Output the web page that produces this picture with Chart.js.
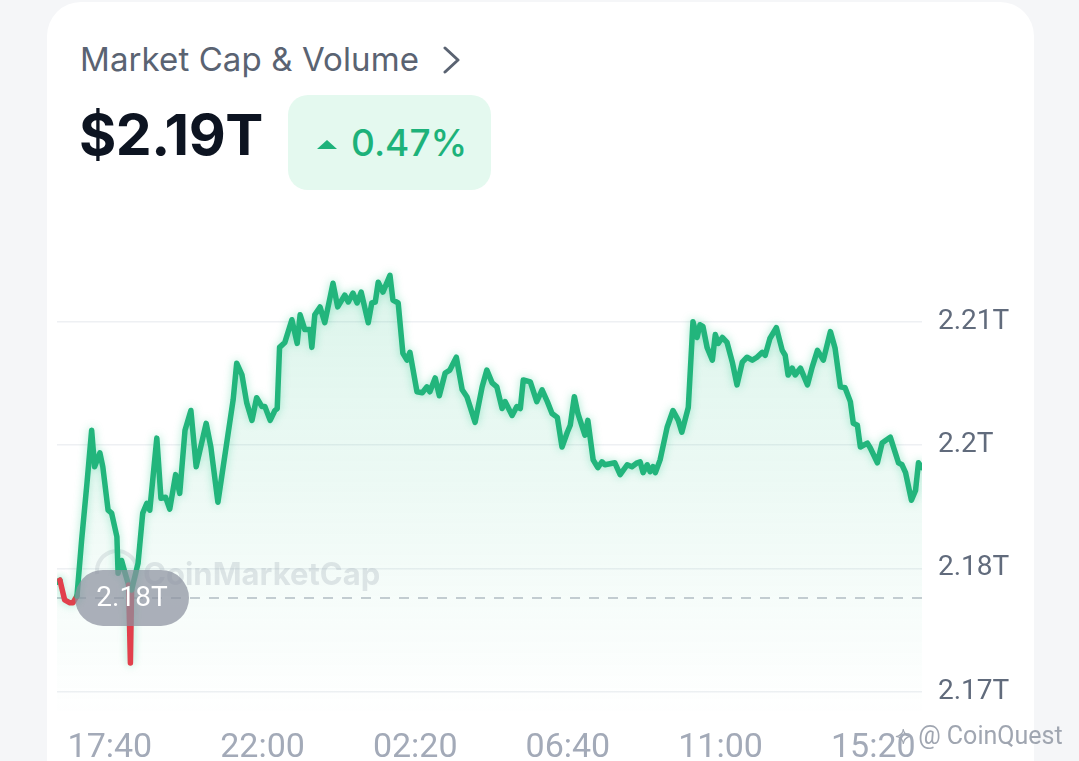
<!DOCTYPE html>
<html lang="en">
<head>
    <meta charset="UTF-8">
    <title>Market Cap & Volume</title>
    <script src="https://cdn.jsdelivr.net/npm/chart.js"></script>
    <style>
        html, body { margin: 0; padding: 0; width: 1079px; height: 761px; overflow: hidden; background: #f5f6f8; font-family: Inter, "Noto Sans", sans-serif; }
        .card { position: absolute; left: 47px; top: 2px; width: 987px; height: 820px; background: #fff; border-radius: 34px; }
        .title { position: absolute; left: 80px; top: 39px; font-size: 33px; color: #5a6372; letter-spacing: 0.1px; }
        .chev { position: absolute; left: 441px; top: 46px; }
        .price { position: absolute; left: 79px; top: 100px; font-size: 57px; font-weight: 700; color: #0d1421; letter-spacing: -0.5px; }
        .badge { position: absolute; left: 288px; top: 95px; width: 203px; height: 95px; background: #e4f9ef; border-radius: 20px; }
        .badge .tri { position: absolute; left: 29px; top: 45px; width: 0; height: 0; border-left: 10px solid transparent; border-right: 10px solid transparent; border-bottom: 9px solid #1db27a; }
        .badge .pct { position: absolute; left: 63px; top: 25px; font-size: 37px; font-weight: 500; color: #1db27a; }
        .wm { position: absolute; left: 895px; top: 721px; font-size: 25px; color: #a0a6b1; font-family: Roboto, sans-serif; }
        canvas { position: absolute; left: 0; top: 0; }
    </style>
</head>
<body>
    <div class="card"></div>
    <div class="title">Market Cap &amp; Volume</div>
    <svg class="chev" width="22" height="28" viewBox="0 0 22 28"><path d="M4 2 L17 14 L4 26" fill="none" stroke="#5a6372" stroke-width="3" stroke-linecap="round" stroke-linejoin="round"/></svg>
    <div class="price">$2.19T</div>
    <div class="badge"><div class="tri"></div><div class="pct">0.47%</div></div>

    <canvas id="myChart" width="1079" height="790"></canvas>
    <div class="wm">⟡ @ CoinQuest</div>

    <script>
        // minutes since 00:00 of the first day
        const times = [970, 975, 983, 992, 997, 1004, 1012, 1021, 1029, 1034, 1043, 1048, 1057, 1063, 1072, 1074, 1080, 1086, 1092, 1095,
            1097, 1108, 1116, 1123, 1128, 1140, 1147, 1155, 1162, 1172, 1179, 1188, 1198, 1207, 1224, 1232, 1244, 1261, 1270, 1276,
            1285, 1293, 1302, 1310, 1319, 1324, 1333, 1341, 1345, 1349, 1358, 1370, 1379, 1384, 1392, 1401, 1404, 1409, 1418, 1426,
            1440, 1448, 1460, 1466, 1474, 1481, 1488, 1500, 1506, 1512, 1517, 1525, 1537, 1542, 1551, 1559, 1566, 1571, 1583, 1592,
            1600, 1605, 1614, 1621, 1631, 1639, 1650, 1660, 1668, 1682, 1694, 1702, 1711, 1719, 1728, 1733, 1745, 1753, 1759, 1764,
            1776, 1787, 1796, 1805, 1813, 1822, 1830, 1839, 1844, 1851, 1857, 1869, 1874, 1883, 1891, 1898, 1903, 1920, 1929, 1941,
            1949, 1958, 1963, 1968, 1975, 1980, 1985, 1989, 1997, 2009, 2019, 2028, 2034, 2045, 2053, 2060, 2065, 2070, 2077, 2086,
            2091, 2096, 2103, 2111, 2120, 2128, 2137, 2145, 2154, 2162, 2171, 2176, 2184, 2195, 2205, 2210, 2215, 2222, 2227, 2236,
            2248, 2256, 2265, 2275, 2287, 2295, 2304, 2312, 2321, 2326, 2333, 2338, 2350, 2355, 2367, 2375, 2389, 2397, 2403, 2409,
            2415, 2425, 2432, 2437, 2443];

        // market cap, trillions USD
        const marketCap = [2.1836, 2.1838, 2.1818, 2.1815, 2.1815, 2.1822, 2.1879, 2.1936, 2.1990, 2.1953, 2.1967, 2.1953, 2.1909, 2.1906, 2.1882, 2.1845, 2.1858, 2.1845, 2.1833, 2.1754,
            2.1828, 2.1855, 2.1906, 2.1916, 2.1909, 2.1982, 2.1921, 2.1922, 2.1910, 2.1945, 2.1926, 2.1990, 2.2010, 2.1953, 2.1997, 2.1973, 2.1917, 2.1985, 2.2021, 2.2058,
            2.2046, 2.2018, 2.2000, 2.2023, 2.2014, 2.2014, 2.2000, 2.2010, 2.2012, 2.2074, 2.2079, 2.2102, 2.2078, 2.2107, 2.2092, 2.2092, 2.2074, 2.2107, 2.2115, 2.2099,
            2.2139, 2.2115, 2.2127, 2.2120, 2.2129, 2.2119, 2.2130, 2.2099, 2.2119, 2.2120, 2.2140, 2.2130, 2.2147, 2.2122, 2.2119, 2.2068, 2.2061, 2.2069, 2.2029, 2.2028,
            2.2034, 2.2029, 2.2043, 2.2025, 2.2048, 2.2051, 2.2064, 2.2031, 2.2024, 2.1998, 2.2034, 2.2051, 2.2038, 2.2034, 2.2012, 2.2019, 2.2005, 2.2014, 2.2012, 2.2041,
            2.2039, 2.2019, 2.2031, 2.2019, 2.2007, 2.2003, 2.1973, 2.1988, 2.1995, 2.2024, 2.2007, 2.1985, 2.2000, 2.1960, 2.1952, 2.1958, 2.1955, 2.1957, 2.1945, 2.1955,
            2.1953, 2.1957, 2.1958, 2.1947, 2.1955, 2.1948, 2.1953, 2.1947, 2.1960, 2.1993, 2.2010, 2.2000, 2.1988, 2.2013, 2.2100, 2.2084, 2.2097, 2.2095, 2.2074, 2.2061,
            2.2087, 2.2078, 2.2084, 2.2079, 2.2059, 2.2036, 2.2059, 2.2064, 2.2061, 2.2064, 2.2069, 2.2066, 2.2083, 2.2094, 2.2071, 2.2066, 2.2046, 2.2053, 2.2046, 2.2053,
            2.2036, 2.2054, 2.2071, 2.2061, 2.2090, 2.2073, 2.2034, 2.2033, 2.2019, 2.1997, 2.1995, 2.1973, 2.1977, 2.1972, 2.1957, 2.1977, 2.1983, 2.1968, 2.1957, 2.1955,
            2.1947, 2.1919, 2.1929, 2.1957, 2.1952];

        const openValue = 2.1820;      // 24h open, dashed line
        const openLabel = '2.18T';

        const xTickValues = [1060, 1320, 1580, 1840, 2100, 2360];
        const xTickLabels = ['17:40', '22:00', '02:20', '06:40', '11:00', '15:20'];
        const yTickValues = [2.1725, 2.185, 2.1975, 2.21];
        const yTickLabels = ['2.17T', '2.18T', '2.2T', '2.21T'];

        const green = '#22b57c';
        const red = '#e2404c';

        const points = times.map((t, i) => ({ x: t, y: marketCap[i] }));

        // soft halo under the line
        const glow = {
            id: 'glow',
            beforeDatasetDraw(chart, args) {
                if (args.index !== 0) return;
                const c = chart.ctx;
                c.save();
                c.shadowColor = 'rgba(40,200,140,0.4)';
                c.shadowBlur = 8;
            },
            afterDatasetDraw(chart, args) {
                if (args.index === 0) chart.ctx.restore();
            }
        };

        // watermark + dashed open line under the data, pill label on top
        const overlay = {
            id: 'overlay',
            beforeDatasetsDraw(chart) {
                const c = chart.ctx;
                const area = chart.chartArea;
                const y = chart.scales.y.getPixelForValue(openValue);
                c.save();
                c.strokeStyle = 'rgba(150,157,170,0.22)';
                c.lineWidth = 4;
                c.beginPath();
                c.arc(117, 571, 20, Math.PI * 0.95, Math.PI * 2.2);
                c.stroke();
                c.fillStyle = 'rgba(150,157,170,0.25)';
                c.font = 'bold 31px Inter, sans-serif';
                c.textBaseline = 'middle';
                c.fillText('CoinMarketCap', 143, 576);
                c.setLineDash([10, 9]);
                c.strokeStyle = '#c9cdd4';
                c.lineWidth = 2;
                c.beginPath();
                c.moveTo(area.left, y);
                c.lineTo(area.right, y);
                c.stroke();
                c.restore();
            },
            afterDatasetsDraw(chart) {
                const c = chart.ctx;
                const y = chart.scales.y.getPixelForValue(openValue);
                const x = 75, w = 114, h = 56;
                c.save();
                c.fillStyle = 'rgba(140,146,160,0.72)';
                c.beginPath();
                c.roundRect(x, y - h / 2, w, h, h / 2);
                c.fill();
                c.fillStyle = '#fff';
                c.font = '28px Roboto, sans-serif';
                c.textAlign = 'center';
                c.textBaseline = 'middle';
                c.fillText(openLabel, x + w / 2, y + 1);
                c.restore();
            }
        };

        const ctx = document.getElementById('myChart').getContext('2d');
        new Chart(ctx, {
            type: 'line',
            data: {
                datasets: [{
                    data: points,
                    borderColor: green,
                    borderWidth: 5.5,
                    pointRadius: 0,
                    tension: 0,
                    fill: false,
                    borderJoinStyle: 'round',
                    borderCapStyle: 'round',
                    segment: {
                        borderColor: s => (s.p0.parsed.y < openValue || s.p1.parsed.y < openValue) ? red : undefined
                    }
                }, {
                    data: points,
                    borderWidth: 0,
                    pointRadius: 0,
                    tension: 0,
                    fill: 'start',
                    backgroundColor: c => {
                        const area = c.chart.chartArea;
                        if (!area) return 'rgba(34,181,124,0.08)';
                        const g = c.chart.ctx.createLinearGradient(0, area.top, 0, area.bottom);
                        g.addColorStop(0, 'rgba(34,190,130,0.17)');
                        g.addColorStop(0.75, 'rgba(34,190,130,0.04)');
                        g.addColorStop(1, 'rgba(34,190,130,0)');
                        return g;
                    }
                }]
            },
            options: {
                responsive: false,
                animation: false,
                layout: { padding: { left: 57, top: 257.6, right: 0, bottom: 0 } },
                plugins: { legend: { display: false }, tooltip: { enabled: false } },
                scales: {
                    x: {
                        type: 'linear',
                        min: 970,
                        max: 2443,
                        afterBuildTicks: s => { s.ticks = xTickValues.map(v => ({ value: v })); },
                        afterFit: s => { s.height = 790 - 716.3; },
                        grid: { display: false, drawTicks: false },
                        border: { display: false },
                        ticks: {
                            padding: 12,
                            maxRotation: 0,
                            autoSkip: false,
                            color: '#a3aab8',
                            font: { family: 'Roboto', size: 34 },
                            callback: (v, i) => xTickLabels[i]
                        }
                    },
                    y: {
                        position: 'right',
                        min: 2.17,
                        max: 2.2165,
                        afterBuildTicks: s => { s.ticks = yTickValues.map(v => ({ value: v })); },
                        afterFit: s => { s.width = 1079 - 922; },
                        grid: { color: '#eef0f3', lineWidth: 1.5, drawTicks: false },
                        border: { display: false },
                        ticks: {
                            padding: 16,
                            color: '#616b7c',
                            font: { family: 'Roboto', size: 28 },
                            callback: (v, i) => yTickLabels[i]
                        }
                    }
                }
            },
            plugins: [glow, overlay]
        });
    </script>
</body>
</html>
